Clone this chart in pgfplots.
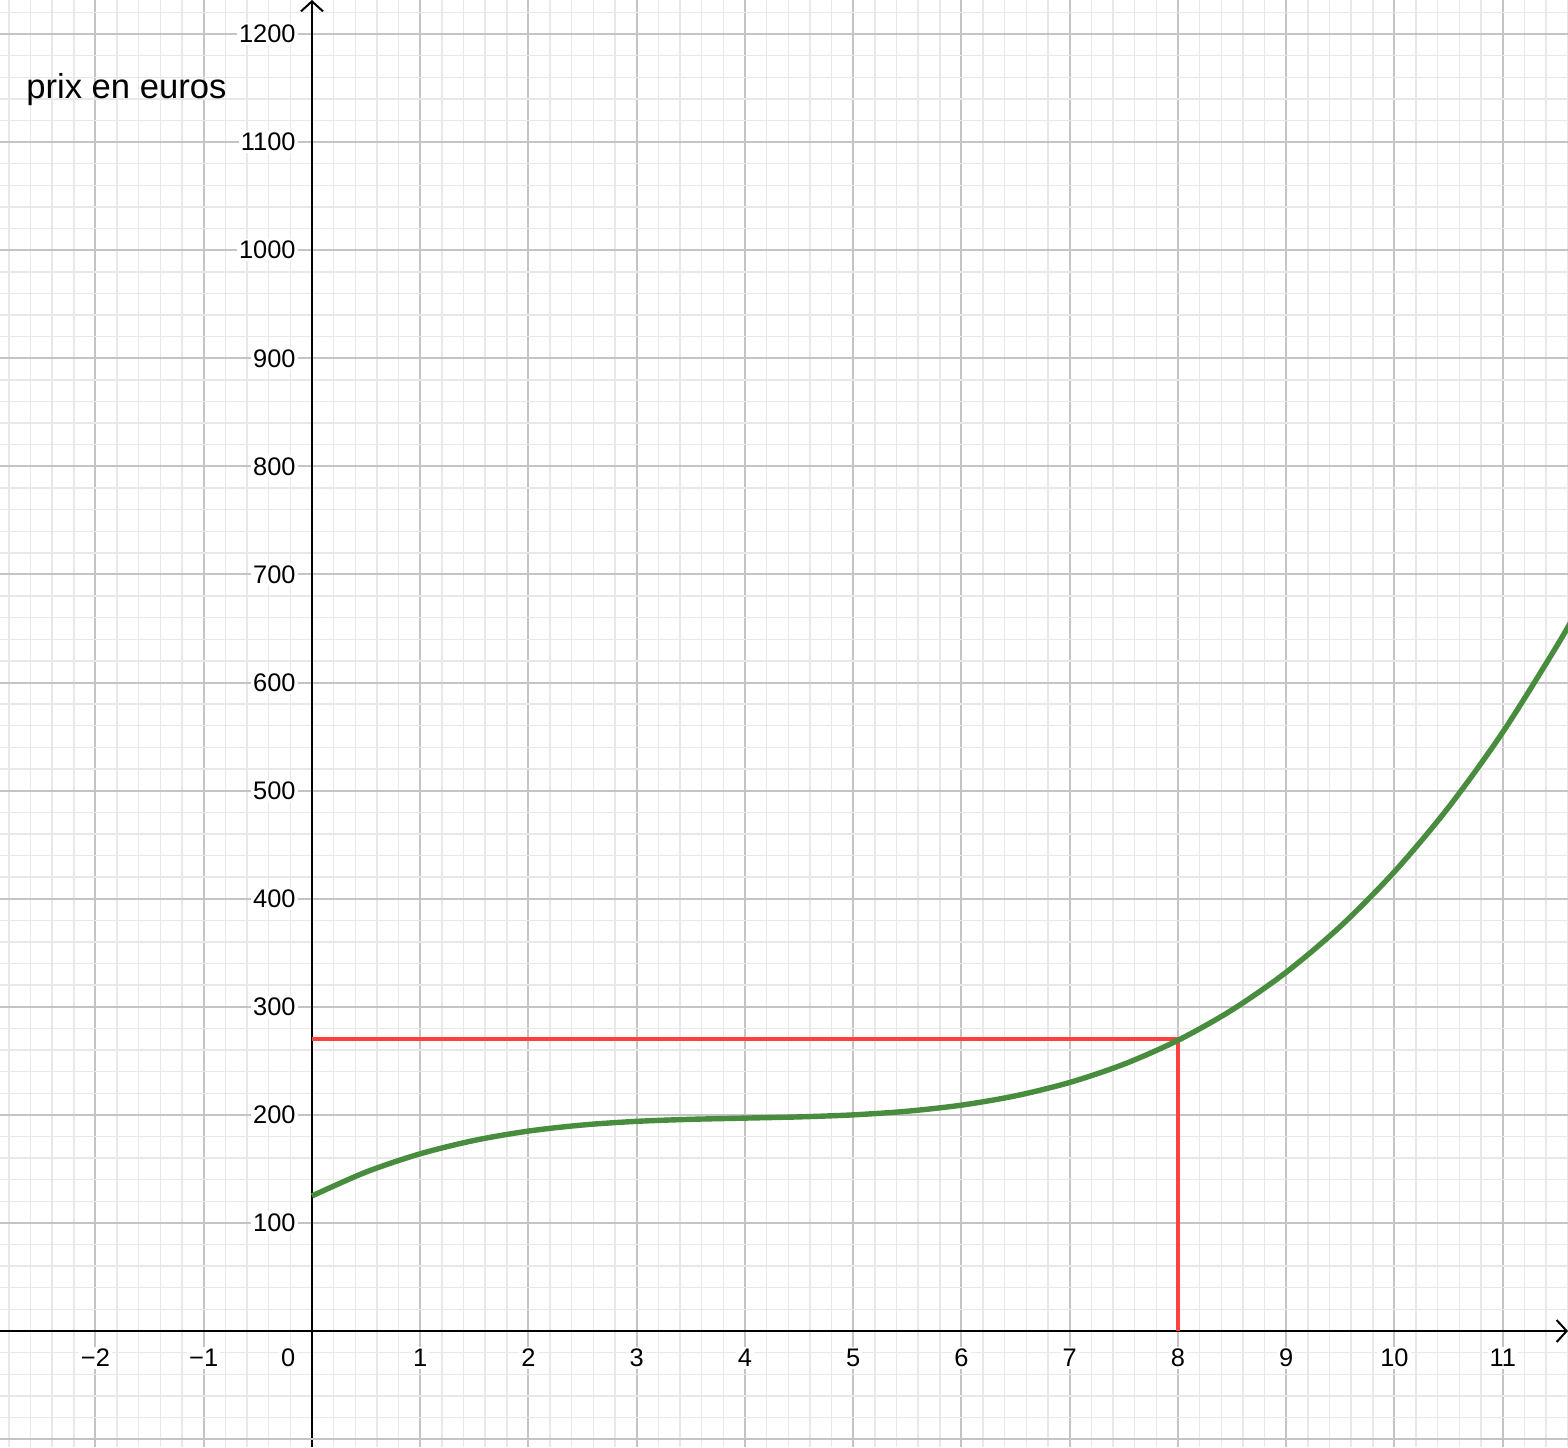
\documentclass[border=0pt]{standalone}
\usepackage{fontspec}
\setmainfont{Liberation Sans}
\usepackage{pgfplots}
\pgfplotsset{compat=1.18}
\usetikzlibrary{arrows.meta}
\definecolor{curvegreen}{RGB}{72,140,62}
\definecolor{redline}{RGB}{255,64,64}
\definecolor{majgrid}{RGB}{196,196,196}
\definecolor{mingrid}{RGB}{232,232,232}
\begin{document}
\begin{tikzpicture}
\begin{axis}[
  width=784pt, height=723.5pt, scale only axis,
  xmin=-2.882, xmax=11.603, ymin=-107.3, ymax=1231.5,
  axis lines=middle,
  axis line style={line width=1pt, black, -{Straight Barb[length=5pt,width=11pt,line width=1pt]}},
  xtick={-2,-1,1,2,3,4,5,6,7,8,9,10,11},
  xticklabels={−2,−1,1,2,3,4,5,6,7,8,9,10,11},
  ytick={100,200,...,1200},
  yticklabels={100,200,300,400,500,600,700,800,900,1000,1100,1200},
  minor xtick={-2.8,-2.6,...,11.6},
  minor ytick={-100,-80,...,1220},
  major tick length=0pt, minor tick length=0pt,
  grid=both,
  major grid style={majgrid, line width=1pt},
  minor grid style={mingrid, line width=0.7pt},
  tick label style={font=\fontsize{12.7}{14}\selectfont},
  xticklabel style={anchor=center, yshift=-13.5pt, fill=white, inner sep=1pt},
  yticklabel style={anchor=east, xshift=-7pt, fill=white, inner sep=1pt},
  clip=true,
]
\draw[majgrid, line width=1pt] (axis cs:-3,-100) -- (axis cs:12,-100);
\addplot[redline, line width=2pt, line join=miter] coordinates {(0,270) (8,270) (8,0)};
\addplot[curvegreen, line width=2.7pt, smooth] coordinates {
(0,125) (0.5,147.125) (1,164) (1.5,176.375) (2,185) (2.5,190.625) (3,194)
(3.5,195.875) (4,197) (4.5,198.125) (5,200) (5.5,203.375) (6,209)
(6.5,217.625) (7,230) (7.5,246.875) (8,269) (8.5,297.125) (9,332)
(9.5,374.375) (10,425) (10.5,484.625) (11,554) (11.5,633.875) (11.7,668.93)};
\node[anchor=center, font=\fontsize{12.7}{14}\selectfont, fill=white, inner sep=1pt] at (axis cs:-0.22,-25) {0};
\node[anchor=west, font=\fontsize{17.3}{20}\selectfont, inner sep=0pt] at (axis cs:-2.642,1149) {prix en euros};
\end{axis}
\pgfresetboundingbox
\useasboundingbox (current axis.south west) rectangle (current axis.north east);
\end{tikzpicture}
\end{document}
